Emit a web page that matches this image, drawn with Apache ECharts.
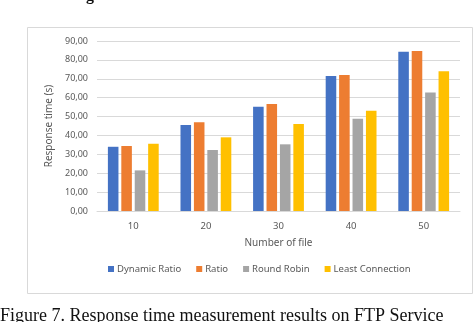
<!DOCTYPE html>
<html>
<head>
<meta charset="utf-8">
<script src="https://cdn.jsdelivr.net/npm/echarts@6/dist/echarts.min.js"></script>
<style>
  html, body { margin: 0; padding: 0; background: #fff; }
  #chart { width: 474px; height: 322px; }
</style>
</head>
<body>
<div id="chart"></div>
<script>
// Number of files transferred per test run
const categories = ['10', '20', '30', '40', '50'];

// Response time (s) per load-balancing method
const dynamicRatio    = [34.0, 45.5, 55.2, 71.5, 84.3];
const ratio           = [34.4, 47.0, 56.6, 72.0, 84.7];
const roundRobin      = [21.5, 32.3, 35.3, 48.9, 62.8];
const leastConnection = [35.6, 39.0, 46.1, 53.1, 74.0];

const seriesNames = ['Dynamic Ratio', 'Ratio', 'Round Robin', 'Least Connection'];
const seriesData = [dynamicRatio, ratio, roundRobin, leastConnection];
const colors = ['#4472C4', '#ED7D31', '#A5A5A5', '#FFC000'];

const textColor = '#595959';
const uiFont = 'Noto Sans';

const chart = echarts.init(document.getElementById('chart'), null, { renderer: 'canvas' });

chart.setOption({
  animation: false,
  color: colors,
  graphic: [
    {
      type: 'rect',
      z: -10,
      shape: { x: 27.5, y: 27.5, width: 445, height: 266 },
      style: { fill: '#fff', stroke: '#d9d9d9', lineWidth: 1 }
    },
    {
      type: 'text',
      left: 86,
      top: -12,
      style: { text: 'g', font: 'bold 16px "Liberation Serif"', fill: '#111' }
    },
    {
      type: 'text',
      left: 0,
      top: 307,
      style: {
        text: 'Figure 7. Response time measurement results on FTP Service',
        font: '18px "Liberation Serif"',
        fill: '#111'
      }
    }
  ],
  legend: {
    data: seriesNames,
    bottom: 43,
    left: 103,
    itemWidth: 6,
    itemHeight: 6,
    itemGap: 15,
    icon: 'rect',
    textStyle: { color: textColor, fontFamily: uiFont, fontSize: 9.5, padding: [0, 0, 0, -2] }
  },
  grid: { left: 97, right: 14, top: 41, bottom: 111 },
  xAxis: {
    type: 'category',
    data: categories,
    name: 'Number of file',
    nameLocation: 'middle',
    nameGap: 27,
    nameTextStyle: { color: textColor, fontFamily: uiFont, fontSize: 10 },
    axisLine: { lineStyle: { color: '#d9d9d9' } },
    axisTick: { show: false },
    axisLabel: { color: textColor, fontFamily: uiFont, fontSize: 9.5, margin: 10 }
  },
  yAxis: {
    type: 'value',
    min: 0,
    max: 90,
    interval: 10,
    name: 'Response time (s)',
    nameLocation: 'middle',
    nameGap: 41,
    nameTextStyle: { color: textColor, fontFamily: uiFont, fontSize: 10 },
    axisLine: { show: false },
    axisTick: { show: false },
    splitLine: { lineStyle: { color: '#d9d9d9' } },
    axisLabel: {
      color: textColor,
      fontFamily: uiFont,
      fontSize: 9,
      margin: 9,
      formatter: v => v.toFixed(2).replace('.', ',')
    }
  },
  series: seriesNames.map((name, i) => ({
    name: name,
    type: 'bar',
    data: seriesData[i],
    barGap: '27%',
    barCategoryGap: '30%'
  }))
});
</script>
</body>
</html>
